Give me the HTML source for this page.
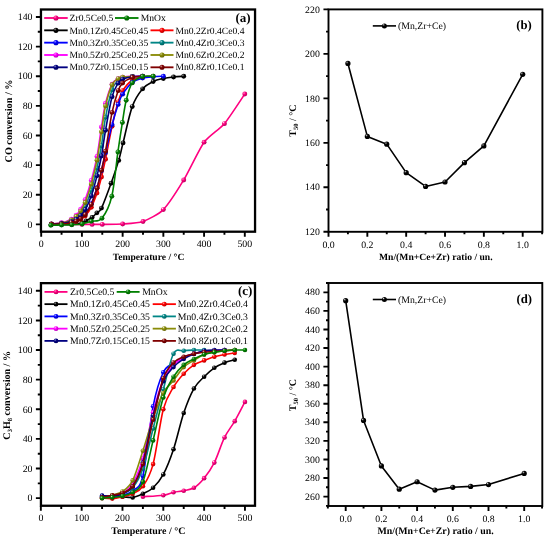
<!DOCTYPE html><html><head><meta charset="utf-8"><title>Figure</title><style>html,body{margin:0;padding:0;background:#fff}body{width:550px;height:539px;overflow:hidden;font-family:"Liberation Serif",serif}svg{display:block}</style></head><body><svg width="550" height="539" viewBox="0 0 550 539" font-family="'Liberation Serif', serif" fill="#000" text-rendering="geometricPrecision"><defs><radialGradient id="g_pink" cx="0.38" cy="0.36" r="0.68" fx="0.32" fy="0.28"><stop offset="0" stop-color="#ffeaf4"/><stop offset="0.16" stop-color="#ff59ac"/><stop offset="0.42" stop-color="#ff0080"/><stop offset="1" stop-color="#b20059"/></radialGradient><radialGradient id="g_green" cx="0.38" cy="0.36" r="0.68" fx="0.32" fy="0.28"><stop offset="0" stop-color="#eaf4ea"/><stop offset="0.16" stop-color="#59ac59"/><stop offset="0.42" stop-color="#008000"/><stop offset="1" stop-color="#005900"/></radialGradient><radialGradient id="g_black" cx="0.38" cy="0.36" r="0.68" fx="0.32" fy="0.28"><stop offset="0" stop-color="#eaeaea"/><stop offset="0.16" stop-color="#595959"/><stop offset="0.42" stop-color="#000000"/><stop offset="1" stop-color="#000000"/></radialGradient><radialGradient id="g_red" cx="0.38" cy="0.36" r="0.68" fx="0.32" fy="0.28"><stop offset="0" stop-color="#ffeaea"/><stop offset="0.16" stop-color="#ff5959"/><stop offset="0.42" stop-color="#ff0000"/><stop offset="1" stop-color="#b20000"/></radialGradient><radialGradient id="g_blue" cx="0.38" cy="0.36" r="0.68" fx="0.32" fy="0.28"><stop offset="0" stop-color="#eaeaff"/><stop offset="0.16" stop-color="#5959ff"/><stop offset="0.42" stop-color="#0000ff"/><stop offset="1" stop-color="#0000b2"/></radialGradient><radialGradient id="g_teal" cx="0.38" cy="0.36" r="0.68" fx="0.32" fy="0.28"><stop offset="0" stop-color="#eaf5f5"/><stop offset="0.16" stop-color="#59b0b0"/><stop offset="0.42" stop-color="#008686"/><stop offset="1" stop-color="#005d5d"/></radialGradient><radialGradient id="g_mag" cx="0.38" cy="0.36" r="0.68" fx="0.32" fy="0.28"><stop offset="0" stop-color="#ffeaff"/><stop offset="0.16" stop-color="#ff59ff"/><stop offset="0.42" stop-color="#ff00ff"/><stop offset="1" stop-color="#b200b2"/></radialGradient><radialGradient id="g_olive" cx="0.38" cy="0.36" r="0.68" fx="0.32" fy="0.28"><stop offset="0" stop-color="#f5f5eb"/><stop offset="0.16" stop-color="#b2b45e"/><stop offset="0.42" stop-color="#8a8c08"/><stop offset="1" stop-color="#606205"/></radialGradient><radialGradient id="g_navy" cx="0.38" cy="0.36" r="0.68" fx="0.32" fy="0.28"><stop offset="0" stop-color="#eaeaf4"/><stop offset="0.16" stop-color="#5959ac"/><stop offset="0.42" stop-color="#000080"/><stop offset="1" stop-color="#000059"/></radialGradient><radialGradient id="g_wine" cx="0.38" cy="0.36" r="0.68" fx="0.32" fy="0.28"><stop offset="0" stop-color="#f4eaea"/><stop offset="0.16" stop-color="#ac5959"/><stop offset="0.42" stop-color="#800000"/><stop offset="1" stop-color="#590000"/></radialGradient></defs><g id="pa">
<path d="M51.38,224.4C52.51,224.4 59.3,224.4 61.56,224.4C63.82,224.4 69.48,224.4 71.74,224.4C74,224.4 79.66,224.4 81.92,224.4C84.18,224.4 89.84,224.4 92.1,224.4C94.36,224.4 98.89,224.45 102.28,224.4C105.67,224.35 118.12,224.28 122.64,223.96C127.16,223.63 138.48,223.03 143,221.44C147.52,219.84 158.84,214.19 163.36,209.58C167.88,204.97 179.2,187.44 183.72,179.95C188.24,172.46 199.56,148.43 204.08,142.17C208.6,135.92 219.92,129 224.44,123.65C228.96,118.3 242.54,97.31 244.8,94.02" stroke="#ff0080" stroke-width="1.6" fill="none" stroke-linejoin="round"/>
<g fill="url(#g_pink)"><circle cx="51.38" cy="224.4" r="2.45"/><circle cx="61.56" cy="224.4" r="2.45"/><circle cx="71.74" cy="224.4" r="2.45"/><circle cx="81.92" cy="224.4" r="2.45"/><circle cx="92.1" cy="224.4" r="2.45"/><circle cx="102.28" cy="224.4" r="2.45"/><circle cx="122.64" cy="223.96" r="2.45"/><circle cx="143" cy="221.44" r="2.45"/><circle cx="163.36" cy="209.58" r="2.45"/><circle cx="183.72" cy="179.95" r="2.45"/><circle cx="204.08" cy="142.17" r="2.45"/><circle cx="224.44" cy="123.65" r="2.45"/><circle cx="244.8" cy="94.02" r="2.45"/></g>
<path d="M51.38,224.4C53.08,224.4 58.17,224.4 61.56,224.4C64.95,224.4 68.35,224.65 71.74,224.4C75.13,224.15 79.54,223.51 81.92,222.92C84.3,222.33 84.3,221.76 85.99,220.84C87.68,219.93 90.24,218.77 92.06,217.44C93.88,216.1 95.34,214.4 96.9,212.84C98.47,211.29 99.1,213.04 101.47,208.1C103.83,203.16 108.2,191.16 111.08,183.21C113.95,175.26 116.69,167.11 118.69,160.39C120.69,153.68 120.79,151.88 123.05,142.91C125.31,133.95 128.98,115.63 132.25,106.61C135.52,97.6 139.19,93.03 142.67,88.83C146.16,84.64 149.73,83.15 153.18,81.43C156.63,79.7 159.97,79.2 163.36,78.46C166.75,77.72 170.15,77.35 173.54,76.98C176.93,76.61 182.02,76.36 183.72,76.24" stroke="#000000" stroke-width="1.6" fill="none" stroke-linejoin="round"/>
<g fill="url(#g_black)"><circle cx="51.38" cy="224.4" r="2.45"/><circle cx="61.56" cy="224.4" r="2.45"/><circle cx="71.74" cy="224.4" r="2.45"/><circle cx="81.92" cy="222.92" r="2.45"/><circle cx="85.99" cy="220.84" r="2.45"/><circle cx="92.06" cy="217.44" r="2.45"/><circle cx="96.9" cy="212.84" r="2.45"/><circle cx="101.47" cy="208.1" r="2.45"/><circle cx="111.08" cy="183.21" r="2.45"/><circle cx="118.69" cy="160.39" r="2.45"/><circle cx="123.05" cy="142.91" r="2.45"/><circle cx="132.25" cy="106.61" r="2.45"/><circle cx="142.67" cy="88.83" r="2.45"/><circle cx="153.18" cy="81.43" r="2.45"/><circle cx="163.36" cy="78.46" r="2.45"/><circle cx="173.54" cy="76.98" r="2.45"/><circle cx="183.72" cy="76.24" r="2.45"/></g>
<path d="M51.38,224.27C53.08,224.22 58.23,224.18 61.56,223.94C64.89,223.71 68.89,223.25 71.33,222.85C73.78,222.45 74.66,222.12 76.22,221.55C77.78,220.99 79.21,220.41 80.7,219.47C82.19,218.54 83.41,217.98 85.18,215.95C86.94,213.92 89.32,211.1 91.29,207.29C93.25,203.48 95.29,198.16 96.99,193.11C98.68,188.06 100.04,182.64 101.47,176.99C102.89,171.34 103.77,167.65 105.54,159.2C107.3,150.76 109.95,135.86 112.05,126.3C114.16,116.75 116.4,107.78 118.16,101.85C119.93,95.93 120.26,94.39 122.64,90.75C125.02,87.11 129.09,82.27 132.41,80C135.74,77.72 139.13,77.73 142.59,77.11C146.05,76.48 151.42,76.38 153.18,76.24" stroke="#ff0000" stroke-width="1.6" fill="none" stroke-linejoin="round"/>
<g fill="url(#g_red)"><circle cx="51.38" cy="224.27" r="2.45"/><circle cx="61.56" cy="223.94" r="2.45"/><circle cx="71.33" cy="222.85" r="2.45"/><circle cx="76.22" cy="221.55" r="2.45"/><circle cx="80.7" cy="219.47" r="2.45"/><circle cx="85.18" cy="215.95" r="2.45"/><circle cx="91.29" cy="207.29" r="2.45"/><circle cx="96.99" cy="193.11" r="2.45"/><circle cx="101.47" cy="176.99" r="2.45"/><circle cx="105.54" cy="159.2" r="2.45"/><circle cx="112.05" cy="126.3" r="2.45"/><circle cx="118.16" cy="101.85" r="2.45"/><circle cx="122.64" cy="90.75" r="2.45"/><circle cx="132.41" cy="80" r="2.45"/><circle cx="142.59" cy="77.11" r="2.45"/><circle cx="153.18" cy="76.24" r="2.45"/></g>
<path d="M51.38,224.22C53.08,224.15 58.23,224.09 61.56,223.78C64.89,223.46 68.89,222.86 71.33,222.35C73.78,221.83 74.66,221.41 76.22,220.7C77.78,219.99 79.21,219.25 80.7,218.1C82.19,216.96 83.41,216.23 85.18,213.82C86.94,211.41 89.32,207.99 91.29,203.65C93.25,199.32 95.29,193.3 96.99,187.81C98.68,182.32 100.04,176.56 101.47,170.71C102.89,164.86 103.77,160.37 105.54,152.73C107.3,145.08 109.95,132.89 112.05,124.84C114.16,116.79 116.4,109.54 118.16,104.42C119.93,99.3 120.26,97.82 122.64,94.13C125.02,90.44 129.09,84.97 132.41,82.29C135.74,79.62 139.13,79.02 142.59,78.08C146.05,77.15 149.72,76.99 153.18,76.68C156.64,76.38 161.66,76.31 163.36,76.24" stroke="#0000ff" stroke-width="1.6" fill="none" stroke-linejoin="round"/>
<g fill="url(#g_blue)"><circle cx="51.38" cy="224.22" r="2.45"/><circle cx="61.56" cy="223.78" r="2.45"/><circle cx="71.33" cy="222.35" r="2.45"/><circle cx="76.22" cy="220.7" r="2.45"/><circle cx="80.7" cy="218.1" r="2.45"/><circle cx="85.18" cy="213.82" r="2.45"/><circle cx="91.29" cy="203.65" r="2.45"/><circle cx="96.99" cy="187.81" r="2.45"/><circle cx="101.47" cy="170.71" r="2.45"/><circle cx="105.54" cy="152.73" r="2.45"/><circle cx="112.05" cy="124.84" r="2.45"/><circle cx="118.16" cy="104.42" r="2.45"/><circle cx="122.64" cy="94.13" r="2.45"/><circle cx="132.41" cy="82.29" r="2.45"/><circle cx="142.59" cy="78.08" r="2.45"/><circle cx="153.18" cy="76.68" r="2.45"/><circle cx="163.36" cy="76.24" r="2.45"/></g>
<path d="M51.38,224.11C53.08,223.98 58.23,223.89 61.56,223.36C64.89,222.82 68.89,221.78 71.33,220.89C73.78,220 74.66,219.25 76.22,218.03C77.78,216.81 79.21,215.5 80.7,213.55C82.19,211.61 83.41,210.22 85.18,206.34C86.94,202.45 89.32,196.63 91.29,190.24C93.25,183.85 95.29,175.44 96.99,168.02C98.68,160.59 100.04,154.15 101.47,145.7C102.89,137.25 103.77,126.62 105.54,117.31C107.3,108 109.95,95.99 112.05,89.84C114.16,83.69 116.4,82.4 118.16,80.41C119.93,78.43 120.26,78.59 122.64,77.94C125.02,77.28 129.09,76.75 132.41,76.47C135.74,76.19 140.9,76.3 142.59,76.27" stroke="#008686" stroke-width="1.6" fill="none" stroke-linejoin="round"/>
<g fill="url(#g_teal)"><circle cx="51.38" cy="224.11" r="2.45"/><circle cx="61.56" cy="223.36" r="2.45"/><circle cx="71.33" cy="220.89" r="2.45"/><circle cx="76.22" cy="218.03" r="2.45"/><circle cx="80.7" cy="213.55" r="2.45"/><circle cx="85.18" cy="206.34" r="2.45"/><circle cx="91.29" cy="190.24" r="2.45"/><circle cx="96.99" cy="168.02" r="2.45"/><circle cx="101.47" cy="145.7" r="2.45"/><circle cx="105.54" cy="117.31" r="2.45"/><circle cx="112.05" cy="89.84" r="2.45"/><circle cx="118.16" cy="80.41" r="2.45"/><circle cx="122.64" cy="77.94" r="2.45"/><circle cx="132.41" cy="76.47" r="2.45"/><circle cx="142.59" cy="76.27" r="2.45"/></g>
<path d="M51.38,223.94C53.08,223.75 58.23,223.58 61.56,222.8C64.89,222.01 68.89,220.47 71.33,219.21C73.78,217.94 74.66,216.88 76.22,215.2C77.78,213.52 79.21,211.71 80.7,209.15C82.19,206.59 83.41,204.6 85.18,199.82C86.94,195.05 89.32,187.73 91.29,180.5C93.25,173.27 95.29,165.34 96.99,156.42C98.68,147.5 100.04,135.83 101.47,126.97C102.89,118.11 103.77,110.38 105.54,103.27C107.3,96.16 109.95,88.41 112.05,84.3C114.16,80.18 116.4,79.78 118.16,78.59C119.93,77.4 120.26,77.55 122.64,77.17C125.02,76.8 129.09,76.52 132.41,76.36C135.74,76.21 140.9,76.27 142.59,76.25" stroke="#ff00ff" stroke-width="1.6" fill="none" stroke-linejoin="round"/>
<g fill="url(#g_mag)"><circle cx="51.38" cy="223.94" r="2.45"/><circle cx="61.56" cy="222.8" r="2.45"/><circle cx="71.33" cy="219.21" r="2.45"/><circle cx="76.22" cy="215.2" r="2.45"/><circle cx="80.7" cy="209.15" r="2.45"/><circle cx="85.18" cy="199.82" r="2.45"/><circle cx="91.29" cy="180.5" r="2.45"/><circle cx="96.99" cy="156.42" r="2.45"/><circle cx="101.47" cy="126.97" r="2.45"/><circle cx="105.54" cy="103.27" r="2.45"/><circle cx="112.05" cy="84.3" r="2.45"/><circle cx="118.16" cy="78.59" r="2.45"/><circle cx="122.64" cy="77.17" r="2.45"/><circle cx="132.41" cy="76.36" r="2.45"/><circle cx="142.59" cy="76.25" r="2.45"/></g>
<path d="M51.38,224.04C53.08,223.88 58.23,223.77 61.56,223.1C64.89,222.44 68.89,221.14 71.33,220.05C73.78,218.95 74.66,218.03 76.22,216.54C77.78,215.05 79.21,213.45 80.7,211.12C82.19,208.78 83.41,207.04 85.18,202.54C86.94,198.03 89.32,191.17 91.29,184.1C93.25,177.04 95.29,168.84 96.99,160.14C98.68,151.43 100.04,140.91 101.47,131.87C102.89,122.83 103.77,113.72 105.54,105.88C107.3,98.04 109.95,89.36 112.05,84.82C114.16,80.28 116.4,79.92 118.16,78.64C119.93,77.37 120.26,77.55 122.64,77.16C125.02,76.78 130.78,76.49 132.41,76.35" stroke="#8a8c08" stroke-width="1.6" fill="none" stroke-linejoin="round"/>
<g fill="url(#g_olive)"><circle cx="51.38" cy="224.04" r="2.45"/><circle cx="61.56" cy="223.1" r="2.45"/><circle cx="71.33" cy="220.05" r="2.45"/><circle cx="76.22" cy="216.54" r="2.45"/><circle cx="80.7" cy="211.12" r="2.45"/><circle cx="85.18" cy="202.54" r="2.45"/><circle cx="91.29" cy="184.1" r="2.45"/><circle cx="96.99" cy="160.14" r="2.45"/><circle cx="101.47" cy="131.87" r="2.45"/><circle cx="105.54" cy="105.88" r="2.45"/><circle cx="112.05" cy="84.82" r="2.45"/><circle cx="118.16" cy="78.64" r="2.45"/><circle cx="122.64" cy="77.16" r="2.45"/><circle cx="132.41" cy="76.35" r="2.45"/></g>
<path d="M51.38,224.17C53.08,224.07 58.23,224 61.56,223.57C64.89,223.14 68.89,222.31 71.33,221.6C73.78,220.89 74.66,220.29 76.22,219.3C77.78,218.31 79.21,217.26 80.7,215.66C82.19,214.06 83.41,212.98 85.18,209.69C86.94,206.4 89.32,201.57 91.29,195.93C93.25,190.28 95.29,182.48 96.99,175.83C98.68,169.17 100.04,163.6 101.47,156.01C102.89,148.41 103.77,140.12 105.54,130.26C107.3,120.39 109.95,104.65 112.05,96.8C114.16,88.95 116.4,86.09 118.16,83.16C119.93,80.23 120.26,80.29 122.64,79.21C125.02,78.13 129.09,77.17 132.41,76.69C135.74,76.21 140.9,76.37 142.59,76.3" stroke="#000080" stroke-width="1.6" fill="none" stroke-linejoin="round"/>
<g fill="url(#g_navy)"><circle cx="51.38" cy="224.17" r="2.45"/><circle cx="61.56" cy="223.57" r="2.45"/><circle cx="71.33" cy="221.6" r="2.45"/><circle cx="76.22" cy="219.3" r="2.45"/><circle cx="80.7" cy="215.66" r="2.45"/><circle cx="85.18" cy="209.69" r="2.45"/><circle cx="91.29" cy="195.93" r="2.45"/><circle cx="96.99" cy="175.83" r="2.45"/><circle cx="101.47" cy="156.01" r="2.45"/><circle cx="105.54" cy="130.26" r="2.45"/><circle cx="112.05" cy="96.8" r="2.45"/><circle cx="118.16" cy="83.16" r="2.45"/><circle cx="122.64" cy="79.21" r="2.45"/><circle cx="132.41" cy="76.69" r="2.45"/><circle cx="142.59" cy="76.3" r="2.45"/></g>
<path d="M51.38,224.27C53.08,224.21 58.23,224.17 61.56,223.91C64.89,223.65 68.89,223.14 71.33,222.69C73.78,222.23 74.66,221.86 76.22,221.21C77.78,220.56 79.21,219.88 80.7,218.8C82.19,217.71 83.41,217.06 85.18,214.69C86.94,212.33 89.32,208.99 91.29,204.59C93.25,200.18 95.29,193.99 96.99,188.27C98.68,182.55 100.04,176.45 101.47,170.28C102.89,164.12 103.77,160.95 105.54,151.29C107.3,141.64 109.95,122.48 112.05,112.38C114.16,102.27 116.4,95.56 118.16,90.67C119.93,85.79 120.26,85.27 122.64,83.07C125.02,80.87 129.09,78.58 132.41,77.47C135.74,76.37 140.9,76.61 142.59,76.44" stroke="#800000" stroke-width="1.6" fill="none" stroke-linejoin="round"/>
<g fill="url(#g_wine)"><circle cx="51.38" cy="224.27" r="2.45"/><circle cx="61.56" cy="223.91" r="2.45"/><circle cx="71.33" cy="222.69" r="2.45"/><circle cx="76.22" cy="221.21" r="2.45"/><circle cx="80.7" cy="218.8" r="2.45"/><circle cx="85.18" cy="214.69" r="2.45"/><circle cx="91.29" cy="204.59" r="2.45"/><circle cx="96.99" cy="188.27" r="2.45"/><circle cx="101.47" cy="170.28" r="2.45"/><circle cx="105.54" cy="151.29" r="2.45"/><circle cx="112.05" cy="112.38" r="2.45"/><circle cx="118.16" cy="90.67" r="2.45"/><circle cx="122.64" cy="83.07" r="2.45"/><circle cx="132.41" cy="77.47" r="2.45"/><circle cx="142.59" cy="76.44" r="2.45"/></g>
<path d="M50.81,225.29C52.6,225.24 58.07,225.07 61.56,224.99C65.05,224.92 68.31,225.02 71.74,224.84C75.17,224.67 78.91,224.55 82.16,223.96C85.42,223.36 87.99,222.25 91.29,221.29C94.58,220.33 98.53,222.35 101.95,218.18C105.37,214 109.15,207.29 111.81,196.25C114.47,185.21 116.15,164.25 117.92,151.95C119.68,139.65 121.01,131.08 122.4,122.47C123.78,113.85 124.58,106.84 126.22,100.24C127.87,93.65 129.51,86.86 132.25,82.91C134.99,78.96 139.19,77.65 142.67,76.54C146.16,75.43 151.43,76.29 153.18,76.24" stroke="#008000" stroke-width="1.6" fill="none" stroke-linejoin="round"/>
<g fill="url(#g_green)"><circle cx="50.81" cy="225.29" r="2.45"/><circle cx="61.56" cy="224.99" r="2.45"/><circle cx="71.74" cy="224.84" r="2.45"/><circle cx="82.16" cy="223.96" r="2.45"/><circle cx="91.29" cy="221.29" r="2.45"/><circle cx="101.95" cy="218.18" r="2.45"/><circle cx="111.81" cy="196.25" r="2.45"/><circle cx="117.92" cy="151.95" r="2.45"/><circle cx="122.4" cy="122.47" r="2.45"/><circle cx="126.22" cy="100.24" r="2.45"/><circle cx="132.25" cy="82.91" r="2.45"/><circle cx="142.67" cy="76.54" r="2.45"/><circle cx="153.18" cy="76.24" r="2.45"/></g>
<rect x="40.95" y="9.5" width="214.1" height="222.2" fill="none" stroke="#000" stroke-width="2.3"/>
<path d="M41.2,231.7v5.05M81.92,231.7v5.05M122.64,231.7v5.05M163.36,231.7v5.05M204.08,231.7v5.05M244.8,231.7v5.05M61.56,231.7v3.15M102.28,231.7v3.15M143,231.7v3.15M183.72,231.7v3.15M224.44,231.7v3.15" stroke="#000" stroke-width="1.9" fill="none"/>
<text x="41.2" y="247.4" font-size="9.9" text-anchor="middle">0</text>
<text x="81.92" y="247.4" font-size="9.9" text-anchor="middle">100</text>
<text x="122.64" y="247.4" font-size="9.9" text-anchor="middle">200</text>
<text x="163.36" y="247.4" font-size="9.9" text-anchor="middle">300</text>
<text x="204.08" y="247.4" font-size="9.9" text-anchor="middle">400</text>
<text x="244.8" y="247.4" font-size="9.9" text-anchor="middle">500</text>
<path d="M40.95,224.4h-5.05M40.95,194.77h-5.05M40.95,165.14h-5.05M40.95,135.5h-5.05M40.95,105.87h-5.05M40.95,76.24h-5.05M40.95,46.61h-5.05M40.95,16.98h-5.05M40.95,209.58h-3.15M40.95,179.95h-3.15M40.95,150.32h-3.15M40.95,120.69h-3.15M40.95,91.06h-3.15M40.95,61.42h-3.15M40.95,31.79h-3.15" stroke="#000" stroke-width="1.9" fill="none"/>
<text x="32.5" y="227.65" font-size="9.9" text-anchor="end">0</text>
<text x="32.5" y="198.02" font-size="9.9" text-anchor="end">20</text>
<text x="32.5" y="168.39" font-size="9.9" text-anchor="end">40</text>
<text x="32.5" y="138.75" font-size="9.9" text-anchor="end">60</text>
<text x="32.5" y="109.12" font-size="9.9" text-anchor="end">80</text>
<text x="32.5" y="79.49" font-size="9.9" text-anchor="end">100</text>
<text x="32.5" y="49.86" font-size="9.9" text-anchor="end">120</text>
<text x="32.5" y="20.23" font-size="9.9" text-anchor="end">140</text>
<path d="M44.2,18H67.7" stroke="#ff0080" stroke-width="1.85"/>
<circle cx="55.95" cy="18" r="2.55" fill="url(#g_pink)"/>
<text x="69.6" y="21.17" font-size="9.6">Zr0.5Ce0.5</text>
<path d="M44.2,30.33H67.7" stroke="#000000" stroke-width="1.85"/>
<circle cx="55.95" cy="30.33" r="2.55" fill="url(#g_black)"/>
<text x="69.6" y="33.5" font-size="9.6">Mn0.1Zr0.45Ce0.45</text>
<path d="M44.2,42.66H67.7" stroke="#0000ff" stroke-width="1.85"/>
<circle cx="55.95" cy="42.66" r="2.55" fill="url(#g_blue)"/>
<text x="69.6" y="45.83" font-size="9.6">Mn0.3Zr0.35Ce0.35</text>
<path d="M44.2,54.99H67.7" stroke="#ff00ff" stroke-width="1.85"/>
<circle cx="55.95" cy="54.99" r="2.55" fill="url(#g_mag)"/>
<text x="69.6" y="58.16" font-size="9.6">Mn0.5Zr0.25Ce0.25</text>
<path d="M44.2,67.32H67.7" stroke="#000080" stroke-width="1.85"/>
<circle cx="55.95" cy="67.32" r="2.55" fill="url(#g_navy)"/>
<text x="69.6" y="70.49" font-size="9.6">Mn0.7Zr0.15Ce0.15</text>
<path d="M115,18H138.5" stroke="#008000" stroke-width="1.85"/>
<circle cx="126.75" cy="18" r="2.55" fill="url(#g_green)"/>
<text x="140.7" y="21.17" font-size="9.6">MnOx</text>
<path d="M150.5,30.33H173.5" stroke="#ff0000" stroke-width="1.85"/>
<circle cx="162" cy="30.33" r="2.55" fill="url(#g_red)"/>
<text x="175.5" y="33.5" font-size="9.6">Mn0.2Zr0.4Ce0.4</text>
<path d="M150.5,42.66H173.5" stroke="#008686" stroke-width="1.85"/>
<circle cx="162" cy="42.66" r="2.55" fill="url(#g_teal)"/>
<text x="175.5" y="45.83" font-size="9.6">Mn0.4Zr0.3Ce0.3</text>
<path d="M150.5,54.99H173.5" stroke="#8a8c08" stroke-width="1.85"/>
<circle cx="162" cy="54.99" r="2.55" fill="url(#g_olive)"/>
<text x="175.5" y="58.16" font-size="9.6">Mn0.6Zr0.2Ce0.2</text>
<path d="M150.5,67.32H173.5" stroke="#800000" stroke-width="1.85"/>
<circle cx="162" cy="67.32" r="2.55" fill="url(#g_wine)"/>
<text x="175.5" y="70.49" font-size="9.6">Mn0.8Zr0.1Ce0.1</text>
<text x="243.1" y="22.2" font-size="13" font-weight="bold" text-anchor="middle">(a)</text>
<text x="148.5" y="260.1" font-size="9.65" font-weight="bold" text-anchor="middle">Temperature / °C</text>
<text transform="translate(11.8,121) rotate(-90)" font-size="10.2" font-weight="bold" text-anchor="middle">CO conversion / %</text>
</g>
<g id="pc">
<path d="M142.9,496.67C146.3,496.42 158.21,495.93 163.31,495.19C168.41,494.45 170.11,492.97 173.51,492.23C176.92,491.49 180.32,491.49 183.72,490.75C187.12,490 190.52,489.88 193.92,487.78C197.33,485.68 200.73,482.35 204.13,478.16C207.53,473.96 210.93,469.39 214.34,462.61C217.74,455.82 221.14,444.34 224.54,437.43C227.94,430.52 231.34,427.06 234.75,421.14C238.15,415.21 243.25,405.09 244.95,401.88" stroke="#ff0080" stroke-width="1.6" fill="none" stroke-linejoin="round"/>
<g fill="url(#g_pink)"><circle cx="142.9" cy="496.67" r="2.3"/><circle cx="163.31" cy="495.19" r="2.3"/><circle cx="173.51" cy="492.23" r="2.3"/><circle cx="183.72" cy="490.75" r="2.3"/><circle cx="193.92" cy="487.78" r="2.3"/><circle cx="204.13" cy="478.16" r="2.3"/><circle cx="214.34" cy="462.61" r="2.3"/><circle cx="224.54" cy="437.43" r="2.3"/><circle cx="234.75" cy="421.14" r="2.3"/><circle cx="244.95" cy="401.88" r="2.3"/></g>
<path d="M102.08,496.67C103.78,496.67 108.88,496.67 112.28,496.67C115.69,496.67 119.09,496.55 122.49,496.67C125.89,496.79 129.29,497.9 132.69,497.41C136.1,496.92 139.5,495.31 142.9,493.71C146.3,492.1 149.7,490.99 153.1,487.78C156.51,484.57 159.91,480.87 163.31,474.45C166.71,468.04 170.11,459.52 173.51,449.28C176.92,439.03 180.32,423.11 183.72,412.99C187.12,402.87 190.52,394.6 193.92,388.56C197.33,382.51 200.73,380.16 204.13,376.71C207.53,373.25 210.93,370.17 214.34,367.82C217.74,365.48 221.14,364 224.54,362.64C227.94,361.28 233.04,360.17 234.75,359.68" stroke="#000000" stroke-width="1.6" fill="none" stroke-linejoin="round"/>
<g fill="url(#g_black)"><circle cx="102.08" cy="496.67" r="2.3"/><circle cx="112.28" cy="496.67" r="2.3"/><circle cx="122.49" cy="496.67" r="2.3"/><circle cx="132.69" cy="497.41" r="2.3"/><circle cx="142.9" cy="493.71" r="2.3"/><circle cx="153.1" cy="487.78" r="2.3"/><circle cx="163.31" cy="474.45" r="2.3"/><circle cx="173.51" cy="449.28" r="2.3"/><circle cx="183.72" cy="412.99" r="2.3"/><circle cx="193.92" cy="388.56" r="2.3"/><circle cx="204.13" cy="376.71" r="2.3"/><circle cx="214.34" cy="367.82" r="2.3"/><circle cx="224.54" cy="362.64" r="2.3"/><circle cx="234.75" cy="359.68" r="2.3"/></g>
<path d="M102.08,498.15C103.78,498.22 108.88,498.84 112.28,498.59C115.69,498.35 119.09,497.48 122.49,496.67C125.89,495.85 129.29,495.43 132.69,493.71C136.1,491.98 139.5,491.24 142.9,486.3C146.3,481.37 149.7,476.92 153.1,464.09C156.51,451.25 159.91,422.13 163.31,409.29C166.71,396.45 170.11,393 173.51,387.07C176.92,381.15 180.32,377.45 183.72,373.75C187.12,370.04 190.52,367.08 193.92,364.86C197.33,362.64 200.73,361.77 204.13,360.42C207.53,359.06 210.93,357.7 214.34,356.71C217.74,355.73 221.14,355.11 224.54,354.49C227.94,353.88 233.04,353.26 234.75,353.01" stroke="#ff0000" stroke-width="1.6" fill="none" stroke-linejoin="round"/>
<g fill="url(#g_red)"><circle cx="102.08" cy="498.15" r="2.3"/><circle cx="112.28" cy="498.59" r="2.3"/><circle cx="122.49" cy="496.67" r="2.3"/><circle cx="132.69" cy="493.71" r="2.3"/><circle cx="142.9" cy="486.3" r="2.3"/><circle cx="153.1" cy="464.09" r="2.3"/><circle cx="163.31" cy="409.29" r="2.3"/><circle cx="173.51" cy="387.07" r="2.3"/><circle cx="183.72" cy="373.75" r="2.3"/><circle cx="193.92" cy="364.86" r="2.3"/><circle cx="204.13" cy="360.42" r="2.3"/><circle cx="214.34" cy="356.71" r="2.3"/><circle cx="224.54" cy="354.49" r="2.3"/><circle cx="234.75" cy="353.01" r="2.3"/></g>
<path d="M102.08,495.93C103.78,496.05 108.88,496.79 112.28,496.67C115.69,496.55 119.09,496.18 122.49,495.19C125.89,494.2 129.29,493.95 132.69,490.75C136.1,487.54 139.5,490 142.9,475.94C146.3,461.87 149.7,423.61 153.1,406.33C156.51,389.05 159.91,379.42 163.31,372.26C166.71,365.11 170.11,365.85 173.51,363.38C176.92,360.91 180.32,359.06 183.72,357.45C187.12,355.85 190.52,354.74 193.92,353.75C197.33,352.77 200.73,352.02 204.13,351.53C207.53,351.04 210.93,351.04 214.34,350.79C217.74,350.54 222.84,350.17 224.54,350.05" stroke="#0000ff" stroke-width="1.6" fill="none" stroke-linejoin="round"/>
<g fill="url(#g_blue)"><circle cx="102.08" cy="495.93" r="2.3"/><circle cx="112.28" cy="496.67" r="2.3"/><circle cx="122.49" cy="495.19" r="2.3"/><circle cx="132.69" cy="490.75" r="2.3"/><circle cx="142.9" cy="475.94" r="2.3"/><circle cx="153.1" cy="406.33" r="2.3"/><circle cx="163.31" cy="372.26" r="2.3"/><circle cx="173.51" cy="363.38" r="2.3"/><circle cx="183.72" cy="357.45" r="2.3"/><circle cx="193.92" cy="353.75" r="2.3"/><circle cx="204.13" cy="351.53" r="2.3"/><circle cx="214.34" cy="350.79" r="2.3"/><circle cx="224.54" cy="350.05" r="2.3"/></g>
<path d="M102.08,496.67C103.78,496.55 108.88,496.42 112.28,495.93C115.69,495.43 119.09,495.06 122.49,493.71C125.89,492.35 129.29,491.98 132.69,487.78C136.1,483.59 139.5,478.4 142.9,468.53C146.3,458.66 149.7,441.75 153.1,428.54C156.51,415.34 159.91,401.76 163.31,389.3C166.71,376.83 170.11,360.17 173.51,353.75C176.92,347.33 180.32,351.41 183.72,350.79C187.12,350.17 190.52,350.17 193.92,350.05C197.33,349.93 202.43,350.05 204.13,350.05" stroke="#008686" stroke-width="1.6" fill="none" stroke-linejoin="round"/>
<g fill="url(#g_teal)"><circle cx="102.08" cy="496.67" r="2.3"/><circle cx="112.28" cy="495.93" r="2.3"/><circle cx="122.49" cy="493.71" r="2.3"/><circle cx="132.69" cy="487.78" r="2.3"/><circle cx="142.9" cy="468.53" r="2.3"/><circle cx="153.1" cy="428.54" r="2.3"/><circle cx="163.31" cy="389.3" r="2.3"/><circle cx="173.51" cy="353.75" r="2.3"/><circle cx="183.72" cy="350.79" r="2.3"/><circle cx="193.92" cy="350.05" r="2.3"/><circle cx="204.13" cy="350.05" r="2.3"/></g>
<path d="M102.08,497.41C103.78,497.16 108.88,496.67 112.28,495.93C115.69,495.19 119.09,495.06 122.49,492.97C125.89,490.87 129.29,489.14 132.69,483.34C136.1,477.54 139.5,470.01 142.9,458.16C146.3,446.31 149.7,425.33 153.1,412.25C156.51,399.17 159.91,387.57 163.31,379.67C166.71,371.77 170.11,368.56 173.51,364.86C176.92,361.16 180.32,359.31 183.72,357.45C187.12,355.6 190.52,354.74 193.92,353.75C197.33,352.77 200.73,352.02 204.13,351.53C207.53,351.04 210.93,351.04 214.34,350.79C217.74,350.54 222.84,350.17 224.54,350.05" stroke="#ff00ff" stroke-width="1.6" fill="none" stroke-linejoin="round"/>
<g fill="url(#g_mag)"><circle cx="102.08" cy="497.41" r="2.3"/><circle cx="112.28" cy="495.93" r="2.3"/><circle cx="122.49" cy="492.97" r="2.3"/><circle cx="132.69" cy="483.34" r="2.3"/><circle cx="142.9" cy="458.16" r="2.3"/><circle cx="153.1" cy="412.25" r="2.3"/><circle cx="163.31" cy="379.67" r="2.3"/><circle cx="173.51" cy="364.86" r="2.3"/><circle cx="183.72" cy="357.45" r="2.3"/><circle cx="193.92" cy="353.75" r="2.3"/><circle cx="204.13" cy="351.53" r="2.3"/><circle cx="214.34" cy="350.79" r="2.3"/><circle cx="224.54" cy="350.05" r="2.3"/></g>
<path d="M102.08,497.41C103.78,497.04 108.88,496.18 112.28,495.19C115.69,494.2 119.09,493.95 122.49,491.49C125.89,489.02 129.29,487.17 132.69,480.38C136.1,473.59 139.5,461.12 142.9,450.76C146.3,440.39 149.7,427.8 153.1,418.18C156.51,408.55 159.91,399.29 163.31,393C166.71,386.7 170.11,384.73 173.51,380.41C176.92,376.09 180.32,370.41 183.72,367.08C187.12,363.75 190.52,362.52 193.92,360.42C197.33,358.32 200.73,355.85 204.13,354.49C207.53,353.14 210.93,352.89 214.34,352.27C217.74,351.65 221.14,351.16 224.54,350.79C227.94,350.42 233.04,350.17 234.75,350.05" stroke="#8a8c08" stroke-width="1.6" fill="none" stroke-linejoin="round"/>
<g fill="url(#g_olive)"><circle cx="102.08" cy="497.41" r="2.3"/><circle cx="112.28" cy="495.19" r="2.3"/><circle cx="122.49" cy="491.49" r="2.3"/><circle cx="132.69" cy="480.38" r="2.3"/><circle cx="142.9" cy="450.76" r="2.3"/><circle cx="153.1" cy="418.18" r="2.3"/><circle cx="163.31" cy="393" r="2.3"/><circle cx="173.51" cy="380.41" r="2.3"/><circle cx="183.72" cy="367.08" r="2.3"/><circle cx="193.92" cy="360.42" r="2.3"/><circle cx="204.13" cy="354.49" r="2.3"/><circle cx="214.34" cy="352.27" r="2.3"/><circle cx="224.54" cy="350.79" r="2.3"/><circle cx="234.75" cy="350.05" r="2.3"/></g>
<path d="M102.08,495.63C103.78,495.68 108.88,496.25 112.28,495.93C115.69,495.61 119.09,495.31 122.49,493.71C125.89,492.1 129.29,491.49 132.69,486.3C136.1,481.12 139.5,474.4 142.9,462.61C146.3,450.81 149.7,429.09 153.1,415.51C156.51,401.93 159.91,389.22 163.31,381.15C166.71,373.08 170.11,370.78 173.51,367.08C176.92,363.38 180.32,361.11 183.72,358.94C187.12,356.76 190.52,355.41 193.92,354.05C197.33,352.69 200.73,351.46 204.13,350.79C207.53,350.12 210.93,350.17 214.34,350.05C217.74,349.93 222.84,350.05 224.54,350.05" stroke="#000080" stroke-width="1.6" fill="none" stroke-linejoin="round"/>
<g fill="url(#g_navy)"><circle cx="102.08" cy="495.63" r="2.3"/><circle cx="112.28" cy="495.93" r="2.3"/><circle cx="122.49" cy="493.71" r="2.3"/><circle cx="132.69" cy="486.3" r="2.3"/><circle cx="142.9" cy="462.61" r="2.3"/><circle cx="153.1" cy="415.51" r="2.3"/><circle cx="163.31" cy="381.15" r="2.3"/><circle cx="173.51" cy="367.08" r="2.3"/><circle cx="183.72" cy="358.94" r="2.3"/><circle cx="193.92" cy="354.05" r="2.3"/><circle cx="204.13" cy="350.79" r="2.3"/><circle cx="214.34" cy="350.05" r="2.3"/><circle cx="224.54" cy="350.05" r="2.3"/></g>
<path d="M102.08,497.41C103.78,497.04 108.88,495.93 112.28,495.19C115.69,494.45 119.09,494.45 122.49,492.97C125.89,491.49 129.29,491.12 132.69,486.3C136.1,481.49 139.5,475.19 142.9,464.09C146.3,452.98 149.7,433.97 153.1,419.66C156.51,405.34 159.91,387.69 163.31,378.19C166.71,368.69 170.11,366.22 173.51,362.64C176.92,359.06 180.32,358.2 183.72,356.71C187.12,355.23 190.52,354.49 193.92,353.75C197.33,353.01 200.73,352.64 204.13,352.27C207.53,351.9 210.93,351.78 214.34,351.53C217.74,351.28 221.14,351.04 224.54,350.79C227.94,350.54 233.04,350.17 234.75,350.05" stroke="#800000" stroke-width="1.6" fill="none" stroke-linejoin="round"/>
<g fill="url(#g_wine)"><circle cx="102.08" cy="497.41" r="2.3"/><circle cx="112.28" cy="495.19" r="2.3"/><circle cx="122.49" cy="492.97" r="2.3"/><circle cx="132.69" cy="486.3" r="2.3"/><circle cx="142.9" cy="464.09" r="2.3"/><circle cx="153.1" cy="419.66" r="2.3"/><circle cx="163.31" cy="378.19" r="2.3"/><circle cx="173.51" cy="362.64" r="2.3"/><circle cx="183.72" cy="356.71" r="2.3"/><circle cx="193.92" cy="353.75" r="2.3"/><circle cx="204.13" cy="352.27" r="2.3"/><circle cx="214.34" cy="351.53" r="2.3"/><circle cx="224.54" cy="350.79" r="2.3"/><circle cx="234.75" cy="350.05" r="2.3"/></g>
<path d="M102.08,498.15C103.78,498.03 108.88,497.78 112.28,497.41C115.69,497.04 119.09,496.79 122.49,495.93C125.89,495.06 129.29,494.57 132.69,492.23C136.1,489.88 139.5,490.5 142.9,481.86C146.3,473.22 149.7,454.46 153.1,440.39C156.51,426.32 159.91,408.06 163.31,397.44C166.71,386.83 170.11,382.14 173.51,376.71C176.92,371.28 180.32,367.82 183.72,364.86C187.12,361.9 190.52,360.66 193.92,358.94C197.33,357.21 200.73,355.6 204.13,354.49C207.53,353.38 210.93,352.89 214.34,352.27C217.74,351.65 221.14,351.16 224.54,350.79C227.94,350.42 231.34,350.17 234.75,350.05C238.15,349.93 243.25,350.05 244.95,350.05" stroke="#008000" stroke-width="1.6" fill="none" stroke-linejoin="round"/>
<g fill="url(#g_green)"><circle cx="102.08" cy="498.15" r="2.3"/><circle cx="112.28" cy="497.41" r="2.3"/><circle cx="122.49" cy="495.93" r="2.3"/><circle cx="132.69" cy="492.23" r="2.3"/><circle cx="142.9" cy="481.86" r="2.3"/><circle cx="153.1" cy="440.39" r="2.3"/><circle cx="163.31" cy="397.44" r="2.3"/><circle cx="173.51" cy="376.71" r="2.3"/><circle cx="183.72" cy="364.86" r="2.3"/><circle cx="193.92" cy="358.94" r="2.3"/><circle cx="204.13" cy="354.49" r="2.3"/><circle cx="214.34" cy="352.27" r="2.3"/><circle cx="224.54" cy="350.79" r="2.3"/><circle cx="234.75" cy="350.05" r="2.3"/><circle cx="244.95" cy="350.05" r="2.3"/></g>
<rect x="40.95" y="283.15" width="214.05" height="222.6" fill="none" stroke="#000" stroke-width="2.3"/>
<path d="M40.85,505.75v5.05M81.67,505.75v5.05M122.49,505.75v5.05M163.31,505.75v5.05M204.13,505.75v5.05M244.95,505.75v5.05M61.26,505.75v3.15M102.08,505.75v3.15M142.9,505.75v3.15M183.72,505.75v3.15M224.54,505.75v3.15" stroke="#000" stroke-width="1.9" fill="none"/>
<text x="40.85" y="521.4" font-size="9.9" text-anchor="middle">0</text>
<text x="81.67" y="521.4" font-size="9.9" text-anchor="middle">100</text>
<text x="122.49" y="521.4" font-size="9.9" text-anchor="middle">200</text>
<text x="163.31" y="521.4" font-size="9.9" text-anchor="middle">300</text>
<text x="204.13" y="521.4" font-size="9.9" text-anchor="middle">400</text>
<text x="244.95" y="521.4" font-size="9.9" text-anchor="middle">500</text>
<path d="M40.95,498.15h-5.05M40.95,468.53h-5.05M40.95,438.91h-5.05M40.95,409.29h-5.05M40.95,379.67h-5.05M40.95,350.05h-5.05M40.95,320.43h-5.05M40.95,290.81h-5.05M40.95,483.34h-3.15M40.95,453.72h-3.15M40.95,424.1h-3.15M40.95,394.48h-3.15M40.95,364.86h-3.15M40.95,335.24h-3.15M40.95,305.62h-3.15" stroke="#000" stroke-width="1.9" fill="none"/>
<text x="32.5" y="501.4" font-size="9.9" text-anchor="end">0</text>
<text x="32.5" y="471.78" font-size="9.9" text-anchor="end">20</text>
<text x="32.5" y="442.16" font-size="9.9" text-anchor="end">40</text>
<text x="32.5" y="412.54" font-size="9.9" text-anchor="end">60</text>
<text x="32.5" y="382.92" font-size="9.9" text-anchor="end">80</text>
<text x="32.5" y="353.3" font-size="9.9" text-anchor="end">100</text>
<text x="32.5" y="323.68" font-size="9.9" text-anchor="end">120</text>
<text x="32.5" y="294.06" font-size="9.9" text-anchor="end">140</text>
<path d="M44.5,291.9H67.5" stroke="#ff0080" stroke-width="1.8"/>
<circle cx="56" cy="291.9" r="2.4" fill="url(#g_pink)"/>
<text x="70" y="295.12" font-size="9.76">Zr0.5Ce0.5</text>
<path d="M44.5,304.15H67.5" stroke="#000000" stroke-width="1.8"/>
<circle cx="56" cy="304.15" r="2.4" fill="url(#g_black)"/>
<text x="70" y="307.37" font-size="9.76">Mn0.1Zr0.45Ce0.45</text>
<path d="M44.5,316.4H67.5" stroke="#0000ff" stroke-width="1.8"/>
<circle cx="56" cy="316.4" r="2.4" fill="url(#g_blue)"/>
<text x="70" y="319.62" font-size="9.76">Mn0.3Zr0.35Ce0.35</text>
<path d="M44.5,328.65H67.5" stroke="#ff00ff" stroke-width="1.8"/>
<circle cx="56" cy="328.65" r="2.4" fill="url(#g_mag)"/>
<text x="70" y="331.87" font-size="9.76">Mn0.5Zr0.25Ce0.25</text>
<path d="M44.5,340.9H67.5" stroke="#000080" stroke-width="1.8"/>
<circle cx="56" cy="340.9" r="2.4" fill="url(#g_navy)"/>
<text x="70" y="344.12" font-size="9.76">Mn0.7Zr0.15Ce0.15</text>
<path d="M116.7,291.9H139.6" stroke="#008000" stroke-width="1.8"/>
<circle cx="128.15" cy="291.9" r="2.4" fill="url(#g_green)"/>
<text x="142.2" y="295.12" font-size="9.76">MnOx</text>
<path d="M152.7,304.15H175.9" stroke="#ff0000" stroke-width="1.8"/>
<circle cx="164.3" cy="304.15" r="2.4" fill="url(#g_red)"/>
<text x="177.8" y="307.37" font-size="9.76">Mn0.2Zr0.4Ce0.4</text>
<path d="M152.7,316.4H175.9" stroke="#008686" stroke-width="1.8"/>
<circle cx="164.3" cy="316.4" r="2.4" fill="url(#g_teal)"/>
<text x="177.8" y="319.62" font-size="9.76">Mn0.4Zr0.3Ce0.3</text>
<path d="M152.7,328.65H175.9" stroke="#8a8c08" stroke-width="1.8"/>
<circle cx="164.3" cy="328.65" r="2.4" fill="url(#g_olive)"/>
<text x="177.8" y="331.87" font-size="9.76">Mn0.6Zr0.2Ce0.2</text>
<path d="M152.7,340.9H175.9" stroke="#800000" stroke-width="1.8"/>
<circle cx="164.3" cy="340.9" r="2.4" fill="url(#g_wine)"/>
<text x="177.8" y="344.12" font-size="9.76">Mn0.8Zr0.1Ce0.1</text>
<text x="245.1" y="294.7" font-size="13" font-weight="bold" text-anchor="middle">(c)</text>
<text x="148.3" y="533.6" font-size="9.95" font-weight="bold" text-anchor="middle">Temperature / °C</text>
<text transform="translate(10.1,395.3) rotate(-90)" font-size="10.1" font-weight="bold" text-anchor="middle">C<tspan font-size="6.5" dy="2">3</tspan><tspan dy="-2">H</tspan><tspan font-size="6.5" dy="2">8</tspan><tspan dy="-2"> conversion / %</tspan></text>
</g>
<g id="pb">
<path d="M347.92,63.44L367.34,136.39L386.76,144.17L406.18,172.64L425.6,186.43L445.02,181.98L464.44,162.63L483.86,145.95L522.7,74.34" stroke="#000000" stroke-width="1.6" fill="none" stroke-linejoin="round"/>
<g fill="url(#g_black)"><circle cx="347.92" cy="63.44" r="2.6"/><circle cx="367.34" cy="136.39" r="2.6"/><circle cx="386.76" cy="144.17" r="2.6"/><circle cx="406.18" cy="172.64" r="2.6"/><circle cx="425.6" cy="186.43" r="2.6"/><circle cx="445.02" cy="181.98" r="2.6"/><circle cx="464.44" cy="162.63" r="2.6"/><circle cx="483.86" cy="145.95" r="2.6"/><circle cx="522.7" cy="74.34" r="2.6"/></g>
<rect x="328.5" y="9.4" width="213.9" height="222.4" fill="none" stroke="#000" stroke-width="1.9"/>
<path d="M328.5,231.8v5.05M367.34,231.8v5.05M406.18,231.8v5.05M445.02,231.8v5.05M483.86,231.8v5.05M522.7,231.8v5.05M347.92,231.8v2.45M386.76,231.8v2.45M425.6,231.8v2.45M464.44,231.8v2.45M503.28,231.8v2.45M542.12,231.8v2.45" stroke="#000" stroke-width="1.9" fill="none"/>
<text x="328.5" y="247.5" font-size="9.8" text-anchor="middle">0.0</text>
<text x="367.34" y="247.5" font-size="9.8" text-anchor="middle">0.2</text>
<text x="406.18" y="247.5" font-size="9.8" text-anchor="middle">0.4</text>
<text x="445.02" y="247.5" font-size="9.8" text-anchor="middle">0.6</text>
<text x="483.86" y="247.5" font-size="9.8" text-anchor="middle">0.8</text>
<text x="522.7" y="247.5" font-size="9.8" text-anchor="middle">1.0</text>
<path d="M328.5,231.8h-5.05M328.5,187.32h-5.05M328.5,142.84h-5.05M328.5,98.36h-5.05M328.5,53.88h-5.05M328.5,9.4h-5.05M328.5,209.56h-2.45M328.5,165.08h-2.45M328.5,120.6h-2.45M328.5,76.12h-2.45M328.5,31.64h-2.45" stroke="#000" stroke-width="1.9" fill="none"/>
<text x="319.8" y="234.95" font-size="9.8" text-anchor="end">120</text>
<text x="319.8" y="190.47" font-size="9.8" text-anchor="end">140</text>
<text x="319.8" y="145.99" font-size="9.8" text-anchor="end">160</text>
<text x="319.8" y="101.51" font-size="9.8" text-anchor="end">180</text>
<text x="319.8" y="57.03" font-size="9.8" text-anchor="end">200</text>
<text x="319.8" y="12.55" font-size="9.8" text-anchor="end">220</text>
<path d="M372.8,25.9H396" stroke="#000000" stroke-width="1.6"/>
<circle cx="384.4" cy="25.9" r="2.5" fill="url(#g_black)"/>
<text x="398" y="29.12" font-size="9.75">(Mn,Zr+Ce)</text>
<text x="524.1" y="28.9" font-size="12.7" font-weight="bold" text-anchor="middle">(b)</text>
<text x="435.8" y="259.7" font-size="9.65" font-weight="bold" text-anchor="middle">Mn/(Mn+Ce+Zr) ratio / un.</text>
<text transform="translate(296.1,120.6) rotate(-90)" font-size="10" font-weight="bold" text-anchor="middle">T<tspan font-size="6.5" dy="2">50</tspan><tspan dy="-2"> / °C</tspan></text>
</g>
<g id="pd">
<path d="M345.7,300.69L363.55,420.46L381.4,465.96L399.25,489.17L417.1,481.74L434.95,490.1L452.8,487.31L470.65,486.39L488.5,484.53L524.2,473.39" stroke="#000000" stroke-width="1.6" fill="none" stroke-linejoin="round"/>
<g fill="url(#g_black)"><circle cx="345.7" cy="300.69" r="2.6"/><circle cx="363.55" cy="420.46" r="2.6"/><circle cx="381.4" cy="465.96" r="2.6"/><circle cx="399.25" cy="489.17" r="2.6"/><circle cx="417.1" cy="481.74" r="2.6"/><circle cx="434.95" cy="490.1" r="2.6"/><circle cx="452.8" cy="487.31" r="2.6"/><circle cx="470.65" cy="486.39" r="2.6"/><circle cx="488.5" cy="484.53" r="2.6"/><circle cx="524.2" cy="473.39" r="2.6"/></g>
<rect x="328.45" y="283" width="213.85" height="223" fill="none" stroke="#000" stroke-width="1.9"/>
<path d="M345.7,506v5.05M381.4,506v5.05M417.1,506v5.05M452.8,506v5.05M488.5,506v5.05M524.2,506v5.05M327.85,506v2.45M363.55,506v2.45M399.25,506v2.45M434.95,506v2.45M470.65,506v2.45M506.35,506v2.45M542.05,506v2.45" stroke="#000" stroke-width="1.9" fill="none"/>
<text x="345.7" y="522" font-size="9.8" text-anchor="middle">0.0</text>
<text x="381.4" y="522" font-size="9.8" text-anchor="middle">0.2</text>
<text x="417.1" y="522" font-size="9.8" text-anchor="middle">0.4</text>
<text x="452.8" y="522" font-size="9.8" text-anchor="middle">0.6</text>
<text x="488.5" y="522" font-size="9.8" text-anchor="middle">0.8</text>
<text x="524.2" y="522" font-size="9.8" text-anchor="middle">1.0</text>
<path d="M328.45,496.6h-5.05M328.45,478.03h-5.05M328.45,459.46h-5.05M328.45,440.89h-5.05M328.45,422.32h-5.05M328.45,403.75h-5.05M328.45,385.18h-5.05M328.45,366.61h-5.05M328.45,348.04h-5.05M328.45,329.47h-5.05M328.45,310.9h-5.05M328.45,292.33h-5.05M328.45,505.89h-2.45M328.45,487.31h-2.45M328.45,468.75h-2.45M328.45,450.18h-2.45M328.45,431.61h-2.45M328.45,413.04h-2.45M328.45,394.47h-2.45M328.45,375.9h-2.45M328.45,357.33h-2.45M328.45,338.75h-2.45M328.45,320.19h-2.45M328.45,301.62h-2.45M328.45,283.05h-2.45" stroke="#000" stroke-width="1.9" fill="none"/>
<text x="319.8" y="499.75" font-size="9.8" text-anchor="end">260</text>
<text x="319.8" y="481.18" font-size="9.8" text-anchor="end">280</text>
<text x="319.8" y="462.61" font-size="9.8" text-anchor="end">300</text>
<text x="319.8" y="444.04" font-size="9.8" text-anchor="end">320</text>
<text x="319.8" y="425.47" font-size="9.8" text-anchor="end">340</text>
<text x="319.8" y="406.9" font-size="9.8" text-anchor="end">360</text>
<text x="319.8" y="388.33" font-size="9.8" text-anchor="end">380</text>
<text x="319.8" y="369.76" font-size="9.8" text-anchor="end">400</text>
<text x="319.8" y="351.19" font-size="9.8" text-anchor="end">420</text>
<text x="319.8" y="332.62" font-size="9.8" text-anchor="end">440</text>
<text x="319.8" y="314.05" font-size="9.8" text-anchor="end">460</text>
<text x="319.8" y="295.48" font-size="9.8" text-anchor="end">480</text>
<path d="M372.8,299.5H396" stroke="#000000" stroke-width="1.6"/>
<circle cx="384.4" cy="299.5" r="2.5" fill="url(#g_black)"/>
<text x="398" y="302.72" font-size="9.75">(Mn,Zr+Ce)</text>
<text x="524.3" y="302.9" font-size="12.7" font-weight="bold" text-anchor="middle">(d)</text>
<text x="435.6" y="533.6" font-size="9.85" font-weight="bold" text-anchor="middle">Mn/(Mn+Ce+Zr) ratio / un.</text>
<text transform="translate(296.1,395.2) rotate(-90)" font-size="10" font-weight="bold" text-anchor="middle">T<tspan font-size="6.5" dy="2">50</tspan><tspan dy="-2"> / °C</tspan></text>
</g></svg></body></html>
